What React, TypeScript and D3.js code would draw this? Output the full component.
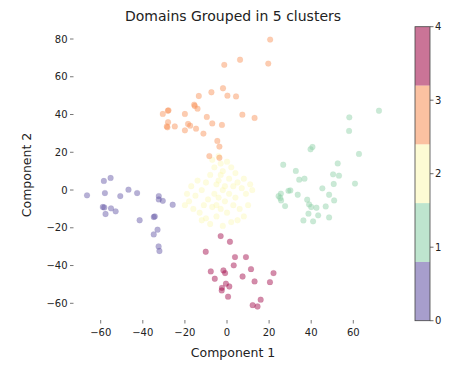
import React from "react";
import * as d3 from "d3";

const title = "Domains Grouped in 5 clusters";
const xLabel = "Component 1";
const yLabel = "Component 2";
const xTicks = [-60, -40, -20, 0, 20, 40, 60];
const yTicks = [-60, -40, -20, 0, 20, 40, 60, 80];
const cbTicks = [0, 1, 2, 3, 4];

const cluster0: [number, number][] = [
  [-66.5, -2.8], [-58.5, 4.8], [-55.3, 6.4], [-58, -1.6], [-46.8, 0.2], [-50.7, -3.2],
  [-42.7, -1.6], [-59, -9], [-58.3, -9.2], [-55.1, -9.7], [-52.9, -11.3], [-57.7, -12.7],
  [-41.5, -16], [-34.8, -14.3], [-34.3, -14], [-32.4, -3.2], [-32.4, -5], [-30.5, -5.7],
  [-25.8, -7.8], [-33, -21], [-34.8, -23.5], [-32.5, -29.9], [-32.1, -32.3],
];
const cluster1: [number, number][] = [
  [72.2, 42], [58.1, 38.5], [58, 31.3], [39.7, 21.6], [40.6, 22.8], [62.7, 19.1],
  [26.7, 13.4], [32.7, 10.1], [52.6, 14.1], [34.3, 5.5], [36.8, 6], [50.4, 8.3],
  [53.2, 7.6], [60.8, 3.4], [50.7, 3.2], [45.3, 0.9], [29.2, -0.4], [30.1, -0.2],
  [33.6, -2.5], [25.6, -1.9], [24.5, -3.2], [25.3, -4.2], [25.7, -5.5], [48.5, -2.5],
  [38.1, -5.1], [50.9, -5.5], [27.6, -8.5], [39, -7.6], [40, -9], [42.5, -9.4],
  [46.9, -8.7], [38.7, -12.5], [43.3, -13.4], [48.5, -14.5], [36.3, -16.1], [40.9, -16.6],
];
const cluster2: [number, number][] = [
  [-4, 5], [-3, 8], [-5, 3], [-2, 10], [-6, 12], [-3, 14], [0, 15], [-8, 8], [-10, 4],
  [-12, 0], [-15, -3], [-18, -6], [-20, -8], [-16, -10], [-13, -12], [-10, -15], [-8, -18],
  [-5, -14], [-3, -10], [-1, -6], [1, -2], [3, 2], [5, 4], [7, 1], [9, -2], [11, 3], [8, 6],
  [4, 9], [2, 12], [-1, 2], [-6, -2], [-9, -5], [-11, -8], [-7, -9], [-4, -4], [0, -12],
  [3, -8], [6, -10], [8, -14], [2, -17], [-2, -19], [5, -16], [10, -8], [12, 0], [-14, 5],
  [-17, 2], [-19, -2], [-7, 16], [-4, 18], [1, 6], [-2, 0], [4, -4], [-12, -16], [-5, -8],
];
const cluster3: [number, number][] = [
  [20.5, 79.7], [6.2, 69], [19.6, 67], [-1.3, 66.3], [-7.4, 51.8], [-1.9, 53.9], [0.2, 50],
  [4.3, 49.6], [-13.4, 49.8], [-15.6, 45.2], [-15.3, 44.5], [-14, 43.1], [-27.8, 42.2],
  [-28.1, 42], [-30.5, 40.3], [-20, 40.3], [-9.6, 38.7], [7.3, 39.9], [13.1, 38.2],
  [-28, 35.9], [-28.6, 33.7], [-28.3, 33.2], [-24.8, 33.7], [-18.5, 35], [-17.5, 34.1],
  [-14.7, 32.5], [-20, 31.6], [-7, 35.3], [-2.4, 34.5], [-11.2, 29.9], [-4.6, 26],
  [-3.6, 23], [-8.4, 18], [-3.6, 17.1],
];
const cluster4: [number, number][] = [
  [-3, -24.4], [1.4, -27.4], [-10.1, -32.7], [3.8, -35.5], [9, -35.5], [3.2, -39.9],
  [11.4, -41.9], [22.1, -44], [-7.7, -43.1], [-1.7, -42.6], [-0.9, -44], [7.4, -45.8],
  [-5.8, -47], [-0.5, -49.6], [1.1, -51.1], [-2.4, -51.8], [-2.5, -53.2], [13.1, -48.4],
  [20.4, -48.8], [0.5, -56.5], [16, -58.1], [12.2, -61], [14.5, -61.7],
];
const clusters = [cluster0, cluster1, cluster2, cluster3, cluster4];

const FONT = "DejaVu Sans, sans-serif";

export default function App() {
  const x = d3.scaleLinear().domain([-60, 60]).range([100.7, 353.3]);
  const y = d3.scaleLinear().domain([-60, 80]).range([303.3, 39]);
  const color = (k: number) => d3.interpolateSpectral(1 - k / 4);
  const cb = d3.scaleLinear().domain([0, 4]).range([320.7, 26.7]);
  const cbX0 = 415;
  const cbX1 = 430;
  const bands = d3.range(5).map((i) => ({ k: i, lo: (i * 4) / 5, hi: ((i + 1) * 4) / 5 }));

  return (
    <svg
      width={474}
      height={366}
      style={{ position: "absolute", left: 0, top: 0, background: "#fff" }}
      fontFamily={FONT}
    >
      <text x={233} y={21} textAnchor="middle" fontSize={14} fill="#222">
        {title}
      </text>

      {clusters.map((pts, k) =>
        pts.map((p, i) => (
          <circle
            key={`${k}-${i}`}
            cx={x(p[0])}
            cy={y(p[1])}
            r={2.9}
            fill={color(k)}
            fillOpacity={k === 2 ? 0.4 : 0.45}
            stroke={color(k)}
            strokeOpacity={0.15}
            strokeWidth={0.6}
          />
        ))
      )}

      {xTicks.map((t) => (
        <g key={`xt${t}`}>
          <line x1={x(t)} x2={x(t)} y1={320} y2={323.5} stroke="#555" strokeWidth={0.8} />
          <text x={x(t)} y={336} textAnchor="middle" fontSize={10} fill="#222">
            {t < 0 ? `\u2212${-t}` : `${t}`}
          </text>
        </g>
      ))}
      {yTicks.map((t) => (
        <g key={`yt${t}`}>
          <line x1={70} x2={73.5} y1={y(t)} y2={y(t)} stroke="#555" strokeWidth={0.8} />
          <text x={67.5} y={y(t) + 3.6} textAnchor="end" fontSize={10} fill="#222">
            {t < 0 ? `\u2212${-t}` : `${t}`}
          </text>
        </g>
      ))}

      <text x={233} y={357} textAnchor="middle" fontSize={12.5} fill="#222">
        {xLabel}
      </text>
      <text
        transform={`translate(31,175) rotate(-90)`}
        textAnchor="middle"
        fontSize={12.5}
        fill="#222"
      >
        {yLabel}
      </text>

      {bands.map((b) => (
        <rect
          key={`band${b.k}`}
          x={cbX0}
          y={cb(b.hi)}
          width={cbX1 - cbX0}
          height={cb(b.lo) - cb(b.hi)}
          fill={color(b.k)}
          fillOpacity={0.55}
        />
      ))}
      <rect
        x={cbX0}
        y={cb(4)}
        width={cbX1 - cbX0}
        height={cb(0) - cb(4)}
        fill="none"
        stroke="#444"
        strokeWidth={0.8}
      />
      {cbTicks.map((t) => (
        <g key={`cb${t}`}>
          <line x1={cbX1} x2={cbX1 + 3.5} y1={cb(t)} y2={cb(t)} stroke="#444" strokeWidth={0.8} />
          <text x={cbX1 + 5} y={cb(t) + 3.5} fontSize={10} fill="#222">
            {t}
          </text>
        </g>
      ))}
    </svg>
  );
}
